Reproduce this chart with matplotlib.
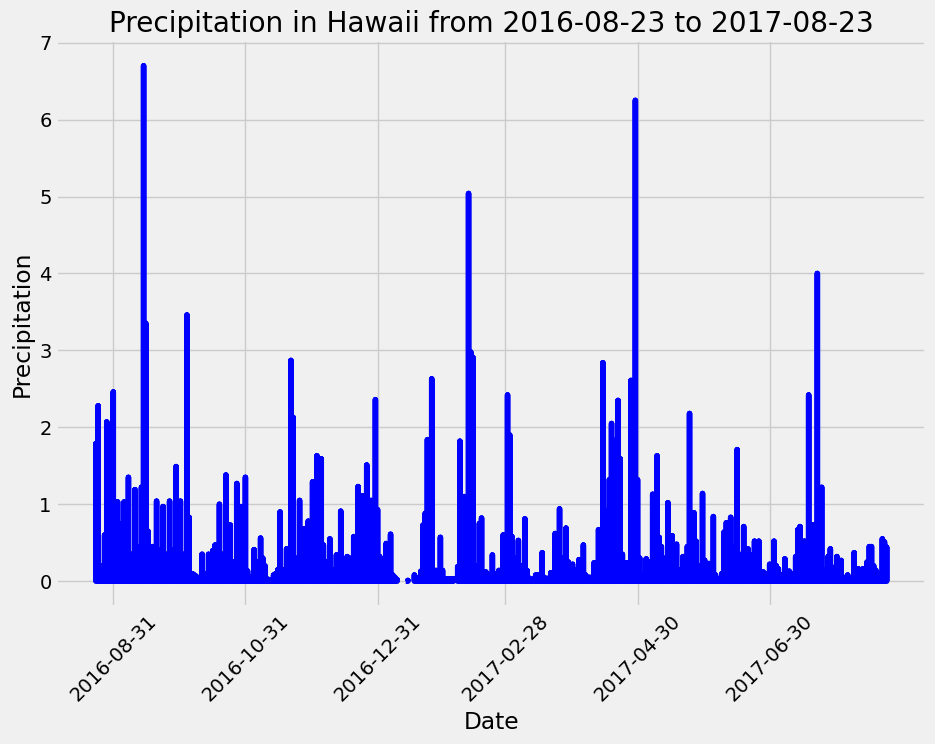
import numpy as np
import pandas as pd
import matplotlib
matplotlib.use('Agg')
import matplotlib.pyplot as plt

# rain values, per day counted from 2016-08-23
start_date = '2016-08-23'
n_days = 366
peak_days = [0, 1, 5, 8, 10, 13, 15, 18, 21, 22, 23, 24, 26, 28, 31, 34, 37, 39, 42, 43,
             49, 52, 54, 55, 57, 60, 62, 65, 67, 69, 70, 73, 76, 78, 82, 85, 87,
             88, 90, 91, 94, 96, 98, 100, 102, 104, 105, 108, 110, 111, 113, 116, 119,
             121, 123, 125, 127, 129, 130, 131, 133, 134, 136, 137, 139,
             144, 147, 150, 151, 152, 153, 155, 157, 159, 160, 161, 163, 165,
             167, 168, 170, 172, 173, 174, 177, 178, 180, 183, 186, 188,
             190, 191, 192, 195, 198, 199, 203, 204, 206, 210, 212, 214, 217, 220, 223,
             225, 228, 230, 232, 234, 235, 237, 238, 239, 241, 242, 245, 247, 249, 250,
             254, 257, 259, 260, 261, 264, 266, 268, 271, 273, 274, 276, 277, 280, 281,
             283, 285, 290, 291, 293, 296, 299, 301, 302, 304, 306, 308, 311, 313, 315,
             316, 318, 320, 323, 324, 325, 327, 329, 331, 333, 335, 338, 339, 342, 344,
             347, 350, 352, 354, 357, 358, 360, 361, 363, 364, 365]
peak_vals = [1.79, 2.28, 2.07, 2.46, 1.03, 1.03, 1.35, 1.19, 1.22, 6.70, 3.35, 0.65, 0.45, 1.04, 0.97, 1.04, 1.49, 1.04, 3.46, 0.83,
             0.35, 0.35, 0.40, 0.47, 1.00, 1.38, 0.73, 1.27, 0.97, 1.35, 0.13, 0.41, 0.56, 0.20, 0.08, 0.90, 0.15,
             0.42, 2.87, 2.13, 1.05, 0.68, 0.78, 1.29, 1.63, 1.59, 0.47, 0.55, 0.15, 0.34, 0.91, 0.32, 0.58,
             1.23, 1.11, 1.51, 1.05, 2.36, 0.93, 0.32, 0.19, 0.49, 0.61, 0.08, 0.02,
             0.01, 0.08, 0.13, 0.73, 0.88, 1.84, 2.63, 0.14, 0.57, 0.14, 0.03, 0.03, 0.03,
             0.19, 1.82, 1.10, 5.04, 2.98, 2.91, 0.75, 0.82, 0.12, 0.34, 0.14, 0.60,
             2.42, 1.90, 0.58, 0.53, 0.81, 0.14, 0.08, 0.08, 0.37, 0.11, 0.62, 0.94, 0.69, 0.22, 0.28,
             0.47, 0.05, 0.24, 0.67, 2.84, 0.92, 1.32, 2.05, 1.83, 2.35, 1.59, 0.24, 2.61, 6.25, 1.32,
             0.29, 1.13, 1.63, 0.57, 0.45, 1.02, 0.59, 0.48, 0.32, 0.45, 2.18, 0.89, 0.52, 1.14, 0.27,
             0.23, 0.84, 0.64, 0.76, 0.83, 1.71, 0.71, 0.42, 0.34, 0.52, 0.52, 0.12, 0.22, 0.52, 0.16,
             0.08, 0.29, 0.13, 0.32, 0.67, 0.71, 0.52, 2.42, 0.73, 4.00, 1.22, 0.32, 0.42, 0.32, 0.27,
             0.08, 0.37, 0.16, 0.16, 0.45, 0.45, 0.14, 0.09, 0.55, 0.51, 0.44]
# the lower days between the peaks, rougher readings from the filled base
low_days = [2, 3, 4, 6, 7, 9, 11, 12, 14, 16, 17, 19, 20, 25, 27, 29, 30, 32, 33, 35, 36, 38, 40, 41,
            44, 45, 46, 47, 48, 50, 51, 53, 56, 58, 59, 61, 63, 64, 66, 68, 71, 72, 74, 75, 77, 79, 80, 81, 83, 84, 86,
            89, 92, 93, 95, 97, 99, 101, 103, 106, 107, 109, 112, 114, 115, 117, 118, 120, 122, 124, 126, 128, 132, 135, 138,
            148, 149, 154, 156, 158, 162, 164, 169, 171, 175, 176, 179, 181, 182, 184, 185, 187, 189,
            193, 194, 196, 197, 200, 201, 202, 205, 207, 208, 209, 211, 213, 215, 216, 218, 219, 221, 222, 224, 226, 227, 229,
            231, 233, 236, 240, 243, 244, 246, 248, 251, 252, 253, 255, 256, 258, 262, 263, 265, 267, 269, 270, 272, 275, 278, 279, 282,
            284, 286, 287, 288, 289, 292, 294, 295, 297, 298, 300, 303, 305, 307, 309, 310, 312, 314, 317, 319, 321, 322,
            326, 328, 330, 332, 334, 336, 337, 340, 341, 343, 345, 346, 348, 349, 351, 353, 355, 356, 359, 362]
low_vals = [0.20, 0.18, 0.60, 0.15, 0.60, 0.55, 0.30, 0.75, 0.35, 0.35, 0.10, 0.20, 0.45, 0.35, 0.35, 0.40, 0.35, 0.25, 0.35, 0.40, 0.35, 0.40, 0.35, 0.20,
            0.10, 0.09, 0.07, 0.05, 0.02, 0.10, 0.10, 0.20, 0.30, 0.35, 0.25, 0.25, 0.25, 0.20, 0.30, 0.25, 0.05, 0.03, 0.25, 0.10, 0.30, 0.03, 0.02, 0.02, 0.10, 0.15, 0.10,
            0.25, 0.30, 0.25, 0.30, 0.35, 0.35, 0.40, 0.40, 0.20, 0.25, 0.12, 0.20, 0.10, 0.20, 0.20, 0.30, 0.40, 0.40, 0.40, 0.40, 0.35, 0.15, 0.15, 0.05,
            0.03, 0.05, 0.30, 0.10, 0.12, 0.03, 0.03, 0.40, 0.35, 0.20, 0.10, 0.05, 0.05, 0.08, 0.04, 0.10, 0.04, 0.05,
            0.30, 0.25, 0.15, 0.20, 0.04, 0.02, 0.03, 0.05, 0.05, 0.03, 0.04, 0.08, 0.30, 0.25, 0.30, 0.25, 0.08, 0.10, 0.15, 0.15, 0.08, 0.05, 0.02,
            0.20, 0.40, 0.60, 0.80, 0.35, 0.05, 0.10, 0.80, 0.30, 0.05, 0.08, 0.15, 0.25, 0.60, 0.15, 0.30, 0.40, 0.15, 0.15, 0.03, 0.20, 0.30, 0.10, 0.20, 0.10,
            0.15, 0.08, 0.02, 0.03, 0.10, 0.50, 0.40, 0.45, 0.35, 0.25, 0.25, 0.20, 0.25, 0.10, 0.04, 0.10, 0.15, 0.20, 0.05, 0.08, 0.05, 0.10,
            0.25, 0.25, 0.45, 0.50, 0.30, 0.15, 0.10, 0.18, 0.12, 0.10, 0.05, 0.05, 0.02, 0.05, 0.10, 0.10, 0.10, 0.25, 0.20, 0.05]
gap_days = [140, 141, 142, 145, 146, 166]
tick_dates = ['2016-08-31', '2016-10-31', '2016-12-31', '2017-02-28', '2017-04-30', '2017-06-30']

plt.style.use('fivethirtyeight')
fig = plt.figure(figsize=(9.35, 7.44), dpi=100)
ax = fig.add_axes([56.4 / 935, 1 - 607 / 744, 869.8 / 935, 567 / 744])

dates = pd.date_range(start_date, periods=n_days)
day_vals = dict(zip(low_days, low_vals))
day_vals.update(zip(peak_days, peak_vals))

# several readings a day, so each date goes up to its top value and back down
xs, ys = [], []
for i, d in enumerate(dates):
    if i in gap_days:
        xs.append(d)
        ys.append(np.nan)
    elif i in day_vals:
        xs += [d, d, d]
        ys += [0.0, day_vals[i], 0.0]
    else:
        xs.append(d)
        ys.append(0.0)

ax.plot(xs, ys, color='blue')
ax.set_xticks(pd.to_datetime(tick_dates))
ax.set_xticklabels(tick_dates, rotation=45)
ax.set_title('Precipitation in Hawaii from 2016-08-23 to 2017-08-23')
ax.set_xlabel('Date')
ax.set_ylabel('Precipitation')

plt.savefig('out.png', dpi=100)
